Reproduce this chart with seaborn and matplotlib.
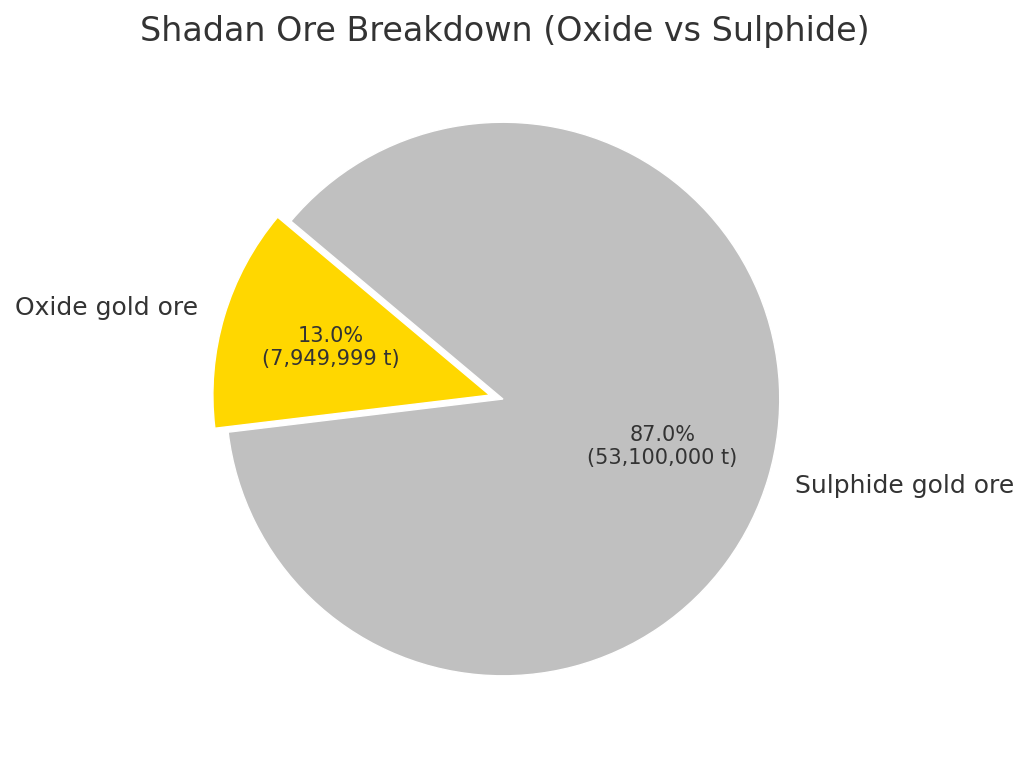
import matplotlib
matplotlib.use("Agg")
import matplotlib.pyplot as plt
import seaborn as sns

categories = ["Oxide gold ore", "Sulphide gold ore"]
tonnes = [7949999, 53100000]
colors = ["#FFD700", "#C0C0C0"]
explode = [0.05, 0.0]

sns.set_theme(style="white")
plt.rcParams["font.family"] = ["DejaVu Sans"]
plt.rcParams["text.color"] = "#333333"

fig = plt.figure(figsize=(10.30, 7.61), dpi=100)
ax = fig.add_axes([0.1524, 0.0210, 0.6718, 0.9093])

_vals = iter(tonnes)

def fmt(pct):
    val = next(_vals)
    return f"{pct:.1f}%\n({val:,} t)"

wedges, texts, autotexts = ax.pie(
    tonnes, labels=categories, colors=colors, explode=explode,
    startangle=140, autopct=fmt, pctdistance=0.6, labeldistance=1.1,
    wedgeprops=dict(edgecolor="white", linewidth=1),
    textprops=dict(color="#333333", fontsize=18),
)
for t in autotexts:
    t.set_fontsize(15)
ax.set_aspect("equal")
fig.text(0.4898, 0.959, "Shadan Ore Breakdown (Oxide vs Sulphide)", ha="center", va="center",
         fontsize=24, color="#333333")
fig.savefig("out.png", dpi=100)
